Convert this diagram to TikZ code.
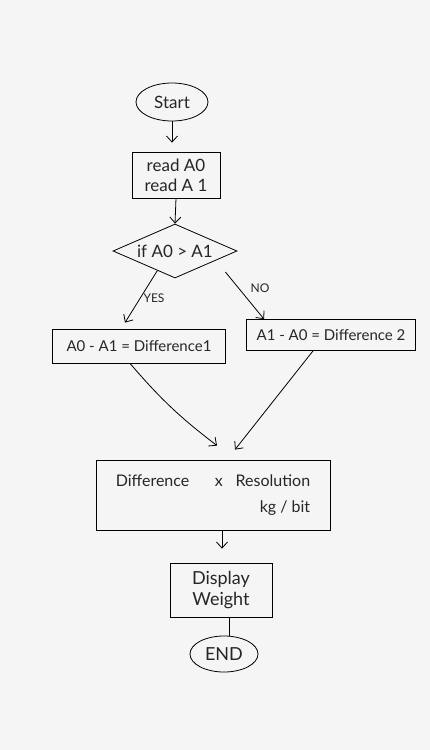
\documentclass[tikz,border=0pt]{standalone}
\usepackage{fontspec}
\setmainfont{Lato}
\usetikzlibrary{shapes.geometric,arrows.meta,calc}
\begin{document}
\begin{tikzpicture}[x=1pt,y=-1pt, line width=0.8pt,
  every node/.style={font=\fontsize{16}{20}\selectfont, text=black!85},
  box/.style={draw, rectangle, inner sep=0pt, align=center},
  term/.style={draw, ellipse, inner sep=0pt},
  arr/.style={-{Straight Barb[length=6pt,width=11pt]}},
  lbl/.style={font=\fontsize{12}{14}\selectfont}]
\fill[black!4] (0,0) rectangle (430,750);
\useasboundingbox (0,0) rectangle (430,750);

\node[term, minimum width=72pt, minimum height=38pt, font=\fontsize{17}{20}\selectfont] (start) at (172,102) {Start};
\node[box, minimum width=88pt, minimum height=46pt, font=\fontsize{17}{20}\selectfont] (read) at (176,175) {read A0\\read A 1};
\node[draw, diamond, shape aspect=2.3, minimum width=124pt, minimum height=54pt, inner sep=0pt, font=\fontsize{17}{20}\selectfont] (dia) at (175,251) {if A0 > A1};
\node[box, minimum width=173pt, minimum height=34pt, font=\fontsize{15}{18}\selectfont] (lbox) at (139,346) {A0 - A1 = Difference1};
\node[box, minimum width=169pt, minimum height=31pt, font=\fontsize{15}{18}\selectfont] (rbox) at (331,335) {A1 - A0 = Difference 2};
\node[box, minimum width=234pt, minimum height=70pt, align=right, font=\fontsize{16}{26}\selectfont] (mult) at (213,495) {Difference\hspace{1.6em}x\hspace{0.8em}Resolution\\kg / bit\hspace{0.5em}};
\node[box, minimum width=102pt, minimum height=54pt, font=\fontsize{18}{21}\selectfont] (disp) at (221,590) {Display\\Weight};
\node[term, minimum width=68pt, minimum height=36pt, font=\fontsize{18}{20}\selectfont] (stop) at (224,654) {END};

\node[lbl] (yes) at (154,298) {YES};
\node[lbl] (no) at (260,288) {NO};

\draw[arr, shorten >=9pt] (start.south) -- (start.south |- read.north);
\draw[arr] (read.south) -- (dia.north);
\draw[arr] (dia.-132) -- ([xshift=-14pt,yshift=6pt]lbox.north);
\draw[arr] ([xshift=-12pt,yshift=-21pt]dia.east) -- ([xshift=-67pt]rbox.north);
\draw[arr] ([xshift=-9pt]lbox.south) to[bend right=6] ([xshift=4pt,yshift=14pt]mult.north);
\draw[arr] ([xshift=-18pt]rbox.south) -- ([xshift=22pt,yshift=10pt]mult.north);
\draw[arr, shorten >=14pt] ([xshift=9pt]mult.south) -- ([xshift=9pt]mult.south |- disp.north);
\draw ([xshift=8pt]disp.south) -- ([xshift=8pt]disp.south |- stop.north);
\end{tikzpicture}
\end{document}
